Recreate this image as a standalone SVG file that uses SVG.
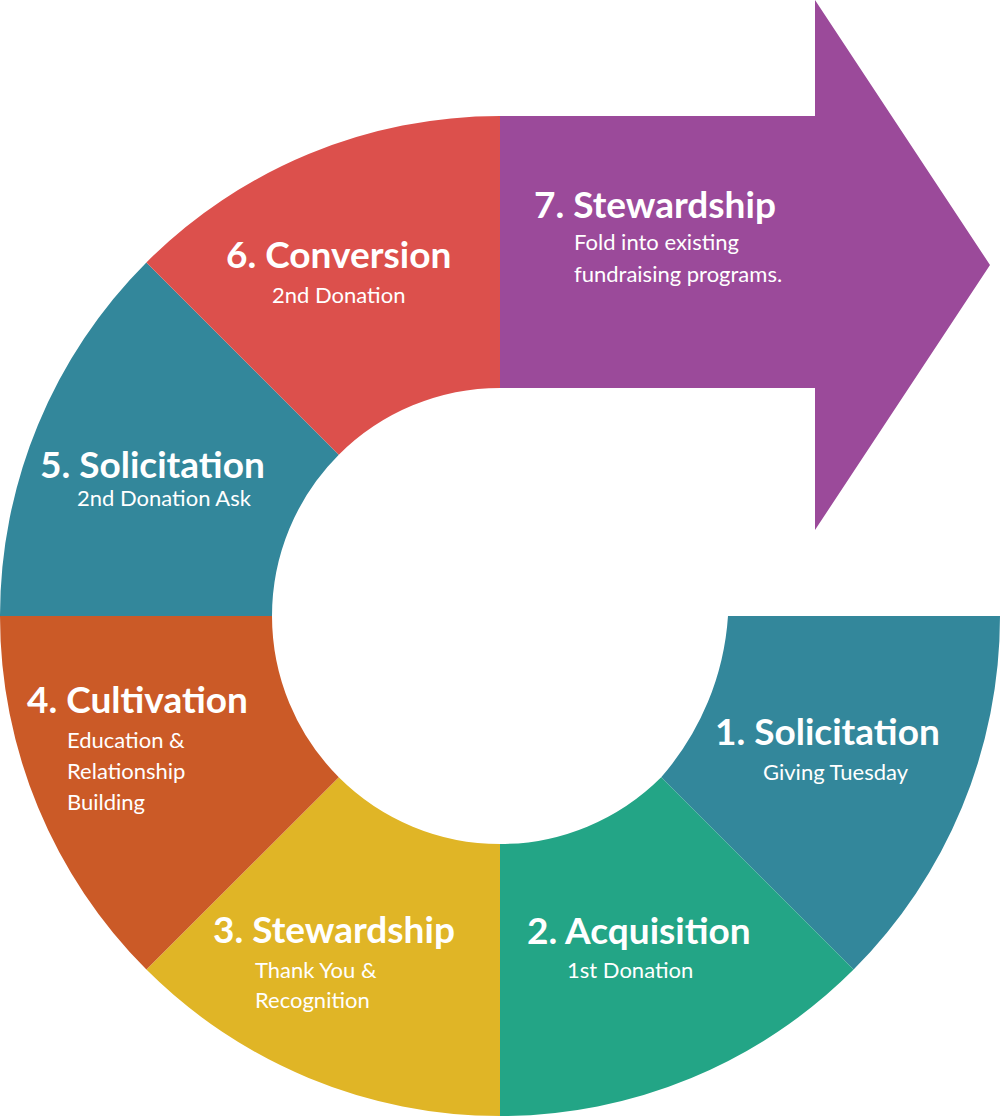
<svg xmlns="http://www.w3.org/2000/svg" width="1000" height="1117" viewBox="0 0 1000 1117">
<style>
.t{font-family:Lato,"Open Sans",sans-serif;font-weight:bold;font-size:37px;fill:#fff}
.s{font-family:Lato,"Open Sans",sans-serif;font-size:22px;fill:#fff}
</style>
<rect width="1000" height="1117" fill="#fff"/>
<g id="seg1"><path d="M1000,616 A500,500 0 0 1 853.6,969.6 L661.2,777.2 A272,272 0 0 0 728,616 Z" fill="#33879b"/>
<text class="t" x="715" y="745">1. Solicitation</text><text class="s" x="763" y="780">Giving Tuesday</text></g>
<g id="seg2"><path d="M853.6,969.6 A500,500 0 0 1 500,1116 L500,844 A228,228 0 0 0 661.2,777.2 Z" fill="#23a586"/>
<text class="t" x="527" y="944">2. Acquisition</text><text class="s" x="567" y="978">1st Donation</text></g>
<g id="seg3"><path d="M500,1116 A500,500 0 0 1 146.4,969.6 L338.8,777.2 A228,228 0 0 0 500,844 Z" fill="#e0b526"/>
<text class="t" x="213" y="943">3. Stewardship</text><text class="s" x="255" y="978">Thank You &amp;</text><text class="s" x="255" y="1008">Recognition</text></g>
<g id="seg4"><path d="M146.4,969.6 A500,500 0 0 1 0,616 L272,616 A228,228 0 0 0 338.8,777.2 Z" fill="#cb5a27"/>
<text class="t" x="27" y="713">4. Cultivation</text><text class="s" x="67" y="748">Education &amp;</text><text class="s" x="67" y="779">Relationship</text><text class="s" x="67" y="810">Building</text></g>
<g id="seg5"><path d="M0,616 A500,500 0 0 1 146.4,262.4 L338.8,454.8 A228,228 0 0 0 272,616 Z" fill="#33879b"/>
<text class="t" x="40" y="478">5. Solicitation</text><text class="s" x="77" y="506">2nd Donation Ask</text></g>
<g id="seg6"><path d="M146.4,262.4 A500,500 0 0 1 500,116 L500,388 A228,228 0 0 0 338.8,454.8 Z" fill="#dc504c"/>
<text class="t" x="226" y="268">6. Conversion</text><text class="s" x="272" y="303">2nd Donation</text></g>
<g id="seg7"><path d="M500,116 L815,116 L815,0 L990,265 L815,530 L815,388 L500,388 Z" fill="#9b4a9a"/>
<text class="t" x="534" y="218">7. Stewardship</text><text class="s" x="574" y="250">Fold into existing</text><text class="s" x="574" y="282">fundraising programs.</text></g>
<g id="connectors"/>
</svg>
